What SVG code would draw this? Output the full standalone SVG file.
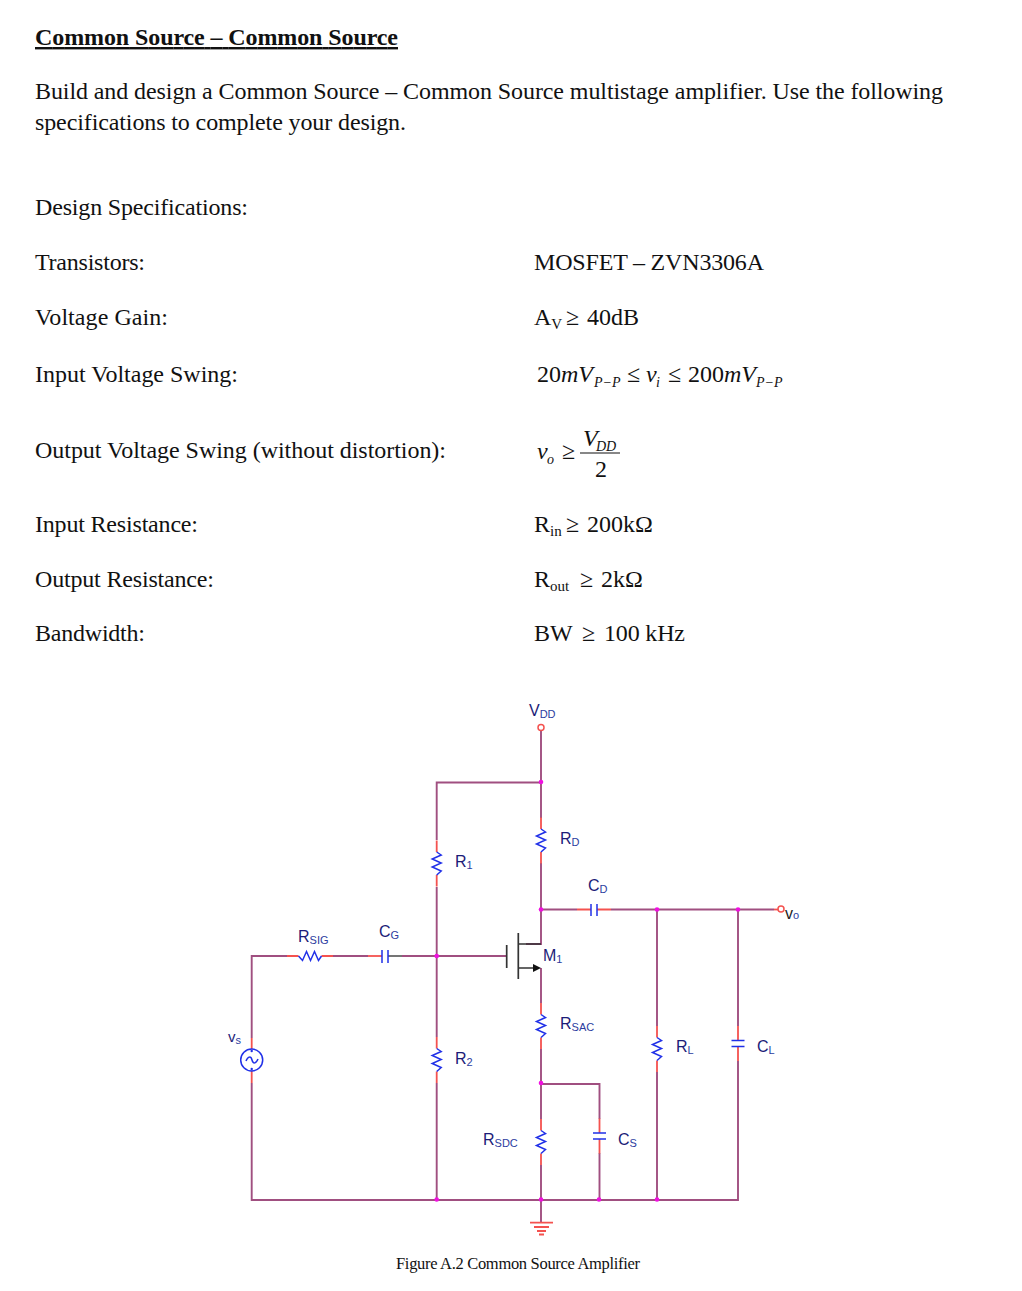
<svg xmlns="http://www.w3.org/2000/svg" width="1022" height="1291" viewBox="0 0 1022 1291">
<style>
.t{font-family:"Liberation Serif","Times New Roman",serif;font-size:24px;fill:#111}
.i{font-style:italic}
.s{font-size:15px}
.l{font-family:"Liberation Sans",Arial,sans-serif;font-size:16px;fill:#1c1c78}
.sub{font-size:11px;fill:#2c3ca0}
.w{fill:none;stroke:#a04f80;stroke-width:1.9}
.r{fill:none;stroke:#f4524f;stroke-width:1.8}
.b{fill:none;stroke:#2030e8;stroke-width:1.5}
.k{fill:none;stroke:#333;stroke-width:1.7}
.n{fill:#f010e0}
</style>
<defs>
<g id="resV"><path class="r" d="M0,-23V-11.500M0,11.500V23"/><path class="b" d="M0,-11.500L4.500,-8.500L-4.500,-4.500L4.500,-0.500L-4.500,3.500L4.500,7.500L0,11.500"/></g>
<g id="capV"><path class="r" d="M0,-17.500V-3M0,3V17.500"/><path class="b" d="M-6.500,-3H6.500M-6.500,3H6.500"/></g>
</defs>
<g id="text">
<text class="t" x="35" y="45" font-weight="bold" text-decoration="underline" textLength="363">Common Source – Common Source</text>
<text class="t" x="35" y="99" textLength="908">Build and design a Common Source – Common Source multistage amplifier. Use the following</text>
<text class="t" x="35" y="130" textLength="371">specifications to complete your design.</text>
<text class="t" x="35" y="215" textLength="213">Design Specifications:</text>
<text class="t" x="35" y="270" textLength="110">Transistors:</text>
<text class="t" x="534" y="270" textLength="230">MOSFET – ZVN3306A</text>
<text class="t" x="35" y="325" textLength="133">Voltage Gain:</text>
<text class="t" x="534" y="325">A<tspan class="s" dy="4">V</tspan></text>
<text class="t" x="566" y="325">≥</text>
<text class="t" x="587" y="325">40dB</text>
<text class="t" x="35" y="382" textLength="203">Input Voltage Swing:</text>
<text class="t" x="537" y="382">20<tspan class="i">mV</tspan></text>
<text class="t i s" x="594" y="387" style="font-size:14px">P−P</text>
<text class="t" x="627" y="382">≤</text>
<text class="t i" x="646" y="382">v</text>
<text class="t i s" x="656" y="387" style="font-size:14px">i</text>
<text class="t" x="668" y="382">≤</text>
<text class="t" x="688" y="382">200<tspan class="i">mV</tspan></text>
<text class="t i s" x="756" y="387" style="font-size:14px">P−P</text>
<text class="t" x="35" y="458" textLength="411">Output Voltage Swing (without distortion):</text>
<text class="t i" x="537" y="459">v</text>
<text class="t i s" x="547" y="464" style="font-size:14px">o</text>
<text class="t" x="562" y="459">≥</text>
<text class="t i" x="583" y="445.500">V</text>
<text class="t i s" x="596" y="450.500" style="font-size:14px">DD</text>
<path d="M580,453H620" fill="none" stroke="#111" stroke-width="1.2"/>
<text class="t" x="595" y="477">2</text>
<text class="t" x="35" y="532" textLength="163">Input Resistance:</text>
<text class="t" x="534" y="532">R<tspan class="s" dy="4">in</tspan></text>
<text class="t" x="566" y="532">≥</text>
<text class="t" x="587" y="532">200kΩ</text>
<text class="t" x="35" y="587" textLength="179">Output Resistance:</text>
<text class="t" x="534" y="587">R<tspan class="s" dy="4">out</tspan></text>
<text class="t" x="580" y="587">≥</text>
<text class="t" x="601" y="587">2kΩ</text>
<text class="t" x="35" y="641" textLength="110">Bandwidth:</text>
<text class="t" x="534" y="641">BW</text>
<text class="t" x="582" y="641">≥</text>
<text class="t" x="604" y="641" textLength="81">100 kHz</text>
<text class="t" x="396" y="1269" style="font-size:16.500px" textLength="244">Figure A.2 Common Source Amplifier</text>
</g>
<g id="connectors">
<path class="w" d="M541,730.500V818M541,863V944H526M541,968V1003M541,1049V1119M541,1165V1222.500"/>
<path class="w" d="M541,782.500H436.700V840M436.700,887V1037M436.700,1083V1200"/>
<path class="w" d="M251.700,1038V956H287M333,956H368M402,956H506.700"/>
<path class="w" d="M251.700,1083V1200H738V1061M738,1026V909.500"/>
<path class="w" d="M541,909.500H577M611,909.500H774"/>
<path class="w" d="M657,909.500V1026M657,1072V1200"/>
<path class="w" d="M541,1084H599.500V1119M599.500,1153V1200"/>
</g>
<g id="junctions">
<circle class="n" cx="541" cy="782" r="2.300"/><circle class="n" cx="541" cy="909.500" r="2.300"/><circle class="n" cx="657" cy="909.500" r="2.300"/><circle class="n" cx="738" cy="909.500" r="2.300"/><circle class="n" cx="436.700" cy="956" r="2.300"/><circle class="n" cx="541" cy="1083" r="2.300"/><circle class="n" cx="436.700" cy="1199.500" r="2.300"/><circle class="n" cx="541" cy="1199.500" r="2.300"/><circle class="n" cx="599" cy="1199.500" r="2.300"/><circle class="n" cx="657" cy="1199.500" r="2.300"/>
</g>
<g id="VDD"><circle cx="541" cy="727.500" r="3" fill="#fff" stroke="#f4524f" stroke-width="1.5"/><text class="l" x="529" y="716">V<tspan class="sub" dy="2">DD</tspan></text></g>
<g id="R1"><use href="#resV" x="436.700" y="863.500"/><text class="l" x="455" y="867">R<tspan class="sub" dy="2">1</tspan></text></g>
<g id="R2"><use href="#resV" x="436.700" y="1060"/><text class="l" x="455" y="1064">R<tspan class="sub" dy="2">2</tspan></text></g>
<g id="RD"><use href="#resV" x="541" y="840.500"/><text class="l" x="560" y="844">R<tspan class="sub" dy="2">D</tspan></text></g>
<g id="RSAC"><use href="#resV" x="541" y="1026"/><text class="l" x="560" y="1029">R<tspan class="sub" dy="2">SAC</tspan></text></g>
<g id="RSDC"><use href="#resV" x="541" y="1142"/><text class="l" x="483" y="1145">R<tspan class="sub" dy="2">SDC</tspan></text></g>
<g id="RL"><use href="#resV" x="657" y="1049"/><text class="l" x="676" y="1052">R<tspan class="sub" dy="2">L</tspan></text></g>
<g id="RSIG"><use href="#resV" transform="translate(310,956) rotate(90)"/><text class="l" x="298" y="942">R<tspan class="sub" dy="2">SIG</tspan></text></g>
<g id="CG"><path class="r" d="M368,956H382"/><path d="M388,956H402" fill="none" stroke="#666" stroke-width="1.8"/><path class="b" d="M382,950V963M388,950V963"/><text class="l" x="379" y="937">C<tspan class="sub" dy="2">G</tspan></text></g>
<g id="CD"><path class="r" d="M577,909.500H591M597,909.500H611"/><path class="b" d="M591,904V916M597,904V916"/><text class="l" x="588" y="891">C<tspan class="sub" dy="2">D</tspan></text></g>
<g id="CS"><use href="#capV" x="599.500" y="1136"/><text class="l" x="618" y="1145">C<tspan class="sub" dy="2">S</tspan></text></g>
<g id="CL"><use href="#capV" x="738" y="1043.500"/><text class="l" x="757" y="1052">C<tspan class="sub" dy="2">L</tspan></text></g>
<g id="M1"><path class="k" d="M506.700,945V968M518.300,933V979M518.300,944H541M518.300,968H533"/><path d="M533,964L541,968L533,972Z" fill="#111"/><text class="l" x="543" y="961">M<tspan class="sub" dy="2">1</tspan></text></g>
<g id="Vs"><path class="r" d="M251.700,1038V1049M251.700,1071V1083"/><circle cx="251.700" cy="1060" r="11" fill="none" stroke="#2030e8" stroke-width="1.5"/><path class="b" d="M246,1061C248,1056 251,1056 252,1060S256,1064 258,1059"/><circle cx="251.700" cy="1051" r="1.200" fill="#2030e8"/><circle cx="251.700" cy="1069" r="1.200" fill="#2030e8"/><text class="l" x="228" y="1042" style="font-size:15px">v<tspan class="sub" dy="2">s</tspan></text></g>
<g id="Vo"><path class="r" d="M774,909.500H778"/><circle cx="781" cy="909" r="3" fill="#fff" stroke="#f4524f" stroke-width="1.500"/><text class="l" x="785" y="919" style="font-size:16px;fill:#222">v<tspan class="sub" dy="0">o</tspan></text></g>
<g id="GND"><path class="r" d="M530,1222.700H553M534,1227H549M537,1231H546M539,1234.500H544"/></g>
</svg>
